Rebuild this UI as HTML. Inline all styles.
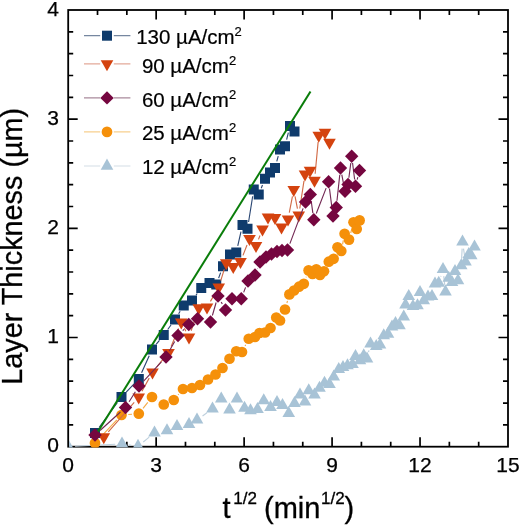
<!DOCTYPE html>
<html lang="en"><head><meta charset="utf-8"><title>Layer Thickness vs t^1/2</title>
<style>html,body{margin:0;padding:0;background:#fff}body{width:520px;height:526px;overflow:hidden}</style></head>
<body>
<svg width="520" height="526" viewBox="0 0 520 526" style="display:block">
<rect width="520" height="526" fill="#fff"/>
<defs><clipPath id="pa"><rect x="69.1" y="9.1" width="439.8" height="438.5"/></clipPath></defs>
<rect x="68.2" y="10" width="439.8" height="436.7" fill="none" stroke="#000" stroke-width="1.8"/>
<path d="M97.52 446.7v-5M97.52 10v5M126.84 446.7v-5M126.84 10v5M156.16 446.7v-9.5M156.16 10v9.5M185.48 446.7v-5M185.48 10v5M214.8 446.7v-5M214.8 10v5M244.12 446.7v-9.5M244.12 10v9.5M273.44 446.7v-5M273.44 10v5M302.76 446.7v-5M302.76 10v5M332.08 446.7v-9.5M332.08 10v9.5M361.4 446.7v-5M361.4 10v5M390.72 446.7v-5M390.72 10v5M420.04 446.7v-9.5M420.04 10v9.5M449.36 446.7v-5M449.36 10v5M478.68 446.7v-5M478.68 10v5M68.2 424.87h5M508 424.87h-5M68.2 403.03h5M508 403.03h-5M68.2 381.19h5M508 381.19h-5M68.2 359.36h5M508 359.36h-5M68.2 337.52h9.5M508 337.52h-9.5M68.2 315.69h5M508 315.69h-5M68.2 293.86h5M508 293.86h-5M68.2 272.02h5M508 272.02h-5M68.2 250.19h5M508 250.19h-5M68.2 228.35h9.5M508 228.35h-9.5M68.2 206.51h5M508 206.51h-5M68.2 184.68h5M508 184.68h-5M68.2 162.85h5M508 162.85h-5M68.2 141.01h5M508 141.01h-5M68.2 119.18h9.5M508 119.18h-9.5M68.2 97.34h5M508 97.34h-5M68.2 75.5h5M508 75.5h-5M68.2 53.67h5M508 53.67h-5M68.2 31.84h5M508 31.84h-5" stroke="#000" stroke-width="1.7" fill="none"/>
<g clip-path="url(#pa)">
<g>
<path fill="none" stroke="#bfd1de" stroke-width="1.15" d="M75.09 446.3L115.21 444.2M128.72 444.86L131.28 445.24M143.28 441.96L149.22 437.14M202.55 415.91L206.95 412.79M368.55 352.23L368.95 350.47M440.76 276.6L440.99 275.85M443.75 276.11L444.75 285.09M447.06 285.23L447.19 284.72M459.44 273.95L459.81 272.25M461.61 258.81L462.14 248.64M463.51 248.57L464.49 255.13"/>
<path d="M62 450.35h12.6l-6.3 -11.1z" fill="#a8c3d6"/>
<path d="M115.7 447.55h12.6l-6.3 -11.1z" fill="#a8c3d6"/>
<path d="M131.7 449.95h12.6l-6.3 -11.1z" fill="#a8c3d6"/>
<path d="M148.2 436.55h12.6l-6.3 -11.1z" fill="#a8c3d6"/>
<path d="M160.7 434.3h12.6l-6.3 -11.1z" fill="#a8c3d6"/>
<path d="M170.7 430.05h12.6l-6.3 -11.1z" fill="#a8c3d6"/>
<path d="M182.7 428.05h12.6l-6.3 -11.1z" fill="#a8c3d6"/>
<path d="M190.7 423.55h12.6l-6.3 -11.1z" fill="#a8c3d6"/>
<path d="M206.2 412.55h12.6l-6.3 -11.1z" fill="#a8c3d6"/>
<path d="M214.95 402.55h12.6l-6.3 -11.1z" fill="#a8c3d6"/>
<path d="M223.2 413.55h12.6l-6.3 -11.1z" fill="#a8c3d6"/>
<path d="M230.7 402.55h12.6l-6.3 -11.1z" fill="#a8c3d6"/>
<path d="M238.2 411.8h12.6l-6.3 -11.1z" fill="#a8c3d6"/>
<path d="M244.2 414.3h12.6l-6.3 -11.1z" fill="#a8c3d6"/>
<path d="M251.2 413.05h12.6l-6.3 -11.1z" fill="#a8c3d6"/>
<path d="M257.45 404.3h12.6l-6.3 -11.1z" fill="#a8c3d6"/>
<path d="M264.2 411.05h12.6l-6.3 -11.1z" fill="#a8c3d6"/>
<path d="M270.7 406.05h12.6l-6.3 -11.1z" fill="#a8c3d6"/>
<path d="M276.2 409.05h12.6l-6.3 -11.1z" fill="#a8c3d6"/>
<path d="M282.45 417.05h12.6l-6.3 -11.1z" fill="#a8c3d6"/>
<path d="M288.2 407.05h12.6l-6.3 -11.1z" fill="#a8c3d6"/>
<path d="M293.7 398.55h12.6l-6.3 -11.1z" fill="#a8c3d6"/>
<path d="M298.7 405.55h12.6l-6.3 -11.1z" fill="#a8c3d6"/>
<path d="M302.45 394.3h12.6l-6.3 -11.1z" fill="#a8c3d6"/>
<path d="M308.2 398.55h12.6l-6.3 -11.1z" fill="#a8c3d6"/>
<path d="M313.2 391.8h12.6l-6.3 -11.1z" fill="#a8c3d6"/>
<path d="M318.2 386.8h12.6l-6.3 -11.1z" fill="#a8c3d6"/>
<path d="M323.2 388.05h12.6l-6.3 -11.1z" fill="#a8c3d6"/>
<path d="M327.45 380.55h12.6l-6.3 -11.1z" fill="#a8c3d6"/>
<path d="M332.45 373.05h12.6l-6.3 -11.1z" fill="#a8c3d6"/>
<path d="M336.7 371.05h12.6l-6.3 -11.1z" fill="#a8c3d6"/>
<path d="M341.2 369.3h12.6l-6.3 -11.1z" fill="#a8c3d6"/>
<path d="M346.2 368.05h12.6l-6.3 -11.1z" fill="#a8c3d6"/>
<path d="M349.2 360.05h12.6l-6.3 -11.1z" fill="#a8c3d6"/>
<path d="M353.7 364.3h12.6l-6.3 -11.1z" fill="#a8c3d6"/>
<path d="M357.45 359.3h12.6l-6.3 -11.1z" fill="#a8c3d6"/>
<path d="M360.7 362.55h12.6l-6.3 -11.1z" fill="#a8c3d6"/>
<path d="M364.2 347.55h12.6l-6.3 -11.1z" fill="#a8c3d6"/>
<path d="M369.95 350.05h12.6l-6.3 -11.1z" fill="#a8c3d6"/>
<path d="M373.7 348.55h12.6l-6.3 -11.1z" fill="#a8c3d6"/>
<path d="M377.45 339.3h12.6l-6.3 -11.1z" fill="#a8c3d6"/>
<path d="M381.7 337.75h12.6l-6.3 -11.1z" fill="#a8c3d6"/>
<path d="M385.7 330.55h12.6l-6.3 -11.1z" fill="#a8c3d6"/>
<path d="M389.2 327.05h12.6l-6.3 -11.1z" fill="#a8c3d6"/>
<path d="M393.2 329.3h12.6l-6.3 -11.1z" fill="#a8c3d6"/>
<path d="M397.45 320.55h12.6l-6.3 -11.1z" fill="#a8c3d6"/>
<path d="M399.2 308.55h12.6l-6.3 -11.1z" fill="#a8c3d6"/>
<path d="M402.45 300.05h12.6l-6.3 -11.1z" fill="#a8c3d6"/>
<path d="M406.7 310.05h12.6l-6.3 -11.1z" fill="#a8c3d6"/>
<path d="M411.2 309.3h12.6l-6.3 -11.1z" fill="#a8c3d6"/>
<path d="M413.7 296.05h12.6l-6.3 -11.1z" fill="#a8c3d6"/>
<path d="M417.45 304.3h12.6l-6.3 -11.1z" fill="#a8c3d6"/>
<path d="M421.7 300.55h12.6l-6.3 -11.1z" fill="#a8c3d6"/>
<path d="M425.7 300.05h12.6l-6.3 -11.1z" fill="#a8c3d6"/>
<path d="M428.7 287.55h12.6l-6.3 -11.1z" fill="#a8c3d6"/>
<path d="M432.45 286.8h12.6l-6.3 -11.1z" fill="#a8c3d6"/>
<path d="M436.7 273.05h12.6l-6.3 -11.1z" fill="#a8c3d6"/>
<path d="M439.2 295.55h12.6l-6.3 -11.1z" fill="#a8c3d6"/>
<path d="M442.45 281.8h12.6l-6.3 -11.1z" fill="#a8c3d6"/>
<path d="M445.7 286.05h12.6l-6.3 -11.1z" fill="#a8c3d6"/>
<path d="M448.7 275.05h12.6l-6.3 -11.1z" fill="#a8c3d6"/>
<path d="M451.7 284.3h12.6l-6.3 -11.1z" fill="#a8c3d6"/>
<path d="M454.95 269.3h12.6l-6.3 -11.1z" fill="#a8c3d6"/>
<path d="M456.2 245.55h12.6l-6.3 -11.1z" fill="#a8c3d6"/>
<path d="M459.2 265.55h12.6l-6.3 -11.1z" fill="#a8c3d6"/>
<path d="M462.45 258.05h12.6l-6.3 -11.1z" fill="#a8c3d6"/>
<path d="M464.95 259.3h12.6l-6.3 -11.1z" fill="#a8c3d6"/>
<path d="M468.2 250.55h12.6l-6.3 -11.1z" fill="#a8c3d6"/>
</g>
<g>
<path fill="none" stroke="#f6ac48" stroke-width="1.15" d="M99.67 438.06L116.83 419.94M128.28 414.49L132.02 414.21M143.02 408.37L147.78 402.33M157.73 400.66L158.02 400.84M178.13 394.8L178.62 394.2M245.09 345.94L245.66 344.81M286.9 302.97L287.5 300.93M306.09 277.4L306.31 276.8M342.58 244.32L343.32 240.48M350.71 233.02L351.79 228.88"/>
<circle cx="95" cy="443" r="5.35" fill="#f5900a"/>
<circle cx="121.5" cy="415" r="5.35" fill="#f5900a"/>
<circle cx="138.8" cy="413.7" r="5.35" fill="#f5900a"/>
<circle cx="152" cy="397" r="5.35" fill="#f5900a"/>
<circle cx="163.75" cy="404.5" r="5.35" fill="#f5900a"/>
<circle cx="173.75" cy="400" r="5.35" fill="#f5900a"/>
<circle cx="183" cy="389" r="5.35" fill="#f5900a"/>
<circle cx="192" cy="388" r="5.35" fill="#f5900a"/>
<circle cx="200" cy="385" r="5.35" fill="#f5900a"/>
<circle cx="208" cy="379.5" r="5.35" fill="#f5900a"/>
<circle cx="215.5" cy="374.5" r="5.35" fill="#f5900a"/>
<circle cx="222.5" cy="368" r="5.35" fill="#f5900a"/>
<circle cx="229.5" cy="358.75" r="5.35" fill="#f5900a"/>
<circle cx="236.25" cy="351.25" r="5.35" fill="#f5900a"/>
<circle cx="242" cy="352" r="5.35" fill="#f5900a"/>
<circle cx="248.75" cy="338.75" r="5.35" fill="#f5900a"/>
<circle cx="255" cy="337" r="5.35" fill="#f5900a"/>
<circle cx="259.5" cy="333" r="5.35" fill="#f5900a"/>
<circle cx="265" cy="332.5" r="5.35" fill="#f5900a"/>
<circle cx="270.5" cy="328" r="5.35" fill="#f5900a"/>
<circle cx="276.25" cy="317.5" r="5.35" fill="#f5900a"/>
<circle cx="280" cy="320.5" r="5.35" fill="#f5900a"/>
<circle cx="285" cy="309.5" r="5.35" fill="#f5900a"/>
<circle cx="289.4" cy="294.4" r="5.35" fill="#f5900a"/>
<circle cx="294" cy="290.5" r="5.35" fill="#f5900a"/>
<circle cx="299" cy="286.7" r="5.35" fill="#f5900a"/>
<circle cx="303.8" cy="283.8" r="5.35" fill="#f5900a"/>
<circle cx="308.6" cy="270.4" r="5.35" fill="#f5900a"/>
<circle cx="312.5" cy="274" r="5.35" fill="#f5900a"/>
<circle cx="316.3" cy="269.4" r="5.35" fill="#f5900a"/>
<circle cx="320" cy="275" r="5.35" fill="#f5900a"/>
<circle cx="324" cy="271.3" r="5.35" fill="#f5900a"/>
<circle cx="328.8" cy="261.7" r="5.35" fill="#f5900a"/>
<circle cx="333.6" cy="258.8" r="5.35" fill="#f5900a"/>
<circle cx="337.5" cy="247.3" r="5.35" fill="#f5900a"/>
<circle cx="341.3" cy="251" r="5.35" fill="#f5900a"/>
<circle cx="344.6" cy="233.8" r="5.35" fill="#f5900a"/>
<circle cx="349" cy="239.6" r="5.35" fill="#f5900a"/>
<circle cx="353.5" cy="222.3" r="5.35" fill="#f5900a"/>
<circle cx="356.7" cy="229" r="5.35" fill="#f5900a"/>
<circle cx="359.6" cy="220.4" r="5.35" fill="#f5900a"/>
</g>
<g>
<path fill="none" stroke="#2c4874" stroke-width="1.15" d="M99.03 427.52L117.47 402.48M126.21 392.1L134.09 383.9M141.58 372.79L149.22 355.71M156.28 344.22L159.47 340.28M167.74 329.5L171.01 325M178.6 313.73L180.15 311.27M196.04 295.03L197.21 293.47M218.61 278.12L220.64 272.63M237.76 245.87L240.99 231.63M248.57 222.03L252.68 196.22M261.26 188.18L262.49 185.07M276.77 161.44L278.23 156.06M286.63 139.65L288.37 132.6"/>
<rect x="90" y="428" width="10" height="10" fill="#0f3b6c"/>
<rect x="116.5" y="392" width="10" height="10" fill="#0f3b6c"/>
<rect x="133.8" y="374" width="10" height="10" fill="#0f3b6c"/>
<rect x="147" y="344.5" width="10" height="10" fill="#0f3b6c"/>
<rect x="158.75" y="330" width="10" height="10" fill="#0f3b6c"/>
<rect x="170" y="314.5" width="10" height="10" fill="#0f3b6c"/>
<rect x="178.75" y="300.5" width="10" height="10" fill="#0f3b6c"/>
<rect x="187" y="295.5" width="10" height="10" fill="#0f3b6c"/>
<rect x="196.25" y="283" width="10" height="10" fill="#0f3b6c"/>
<rect x="204.5" y="278" width="10" height="10" fill="#0f3b6c"/>
<rect x="211.25" y="279.5" width="10" height="10" fill="#0f3b6c"/>
<rect x="218" y="261.25" width="10" height="10" fill="#0f3b6c"/>
<rect x="225" y="249.5" width="10" height="10" fill="#0f3b6c"/>
<rect x="231.25" y="247.5" width="10" height="10" fill="#0f3b6c"/>
<rect x="237.5" y="220" width="10" height="10" fill="#0f3b6c"/>
<rect x="242.5" y="223.75" width="10" height="10" fill="#0f3b6c"/>
<rect x="248.75" y="184.5" width="10" height="10" fill="#0f3b6c"/>
<rect x="253.75" y="189.5" width="10" height="10" fill="#0f3b6c"/>
<rect x="260" y="173.75" width="10" height="10" fill="#0f3b6c"/>
<rect x="265" y="167.5" width="10" height="10" fill="#0f3b6c"/>
<rect x="270" y="163" width="10" height="10" fill="#0f3b6c"/>
<rect x="275" y="144.5" width="10" height="10" fill="#0f3b6c"/>
<rect x="280" y="141.25" width="10" height="10" fill="#0f3b6c"/>
<rect x="285" y="121" width="10" height="10" fill="#0f3b6c"/>
<rect x="289.5" y="126.5" width="10" height="10" fill="#0f3b6c"/>
</g>
<g>
<path fill="none" stroke="#d26c48" stroke-width="1.15" d="M108.29 431.79L134.21 402.31M141.99 391.25L149.21 378.15M156.81 366.94L164.19 357.96M171.12 346.43L178.63 328.47M184.37 328.24L185.88 331.16M191.15 330.75L196.6 314.4M210.44 301.34L215.31 293.06M220.76 280.7L224.24 269.45M242.98 255.37L247.02 245.03M258.49 239.37L260.01 235.53M289.3 212.53L292.45 196.37M295.06 196.37L297.44 208.53M299.77 208.48L303.98 180.92M315.14 173.68L318.11 142.17"/>
<path d="M97.5 433.2h12.6l-6.3 11.1z" fill="#d4430f"/>
<path d="M132.4 393.5h12.6l-6.3 11.1z" fill="#d4430f"/>
<path d="M146.2 368.5h12.6l-6.3 11.1z" fill="#d4430f"/>
<path d="M162.2 349h12.6l-6.3 11.1z" fill="#d4430f"/>
<path d="M174.95 318.5h12.6l-6.3 11.1z" fill="#d4430f"/>
<path d="M182.7 333.5h12.6l-6.3 11.1z" fill="#d4430f"/>
<path d="M192.45 304.25h12.6l-6.3 11.1z" fill="#d4430f"/>
<path d="M200.7 303.5h12.6l-6.3 11.1z" fill="#d4430f"/>
<path d="M212.45 283.5h12.6l-6.3 11.1z" fill="#d4430f"/>
<path d="M219.95 259.25h12.6l-6.3 11.1z" fill="#d4430f"/>
<path d="M226.95 263h12.6l-6.3 11.1z" fill="#d4430f"/>
<path d="M234.2 258h12.6l-6.3 11.1z" fill="#d4430f"/>
<path d="M243.2 235h12.6l-6.3 11.1z" fill="#d4430f"/>
<path d="M249.7 242h12.6l-6.3 11.1z" fill="#d4430f"/>
<path d="M256.2 225.5h12.6l-6.3 11.1z" fill="#d4430f"/>
<path d="M261.7 213.5h12.6l-6.3 11.1z" fill="#d4430f"/>
<path d="M268.7 214h12.6l-6.3 11.1z" fill="#d4430f"/>
<path d="M275.2 223.5h12.6l-6.3 11.1z" fill="#d4430f"/>
<path d="M281.7 215.5h12.6l-6.3 11.1z" fill="#d4430f"/>
<path d="M287.45 186h12.6l-6.3 11.1z" fill="#d4430f"/>
<path d="M292.45 211.5h12.6l-6.3 11.1z" fill="#d4430f"/>
<path d="M298.7 170.5h12.6l-6.3 11.1z" fill="#d4430f"/>
<path d="M303.7 166.75h12.6l-6.3 11.1z" fill="#d4430f"/>
<path d="M308.2 176.75h12.6l-6.3 11.1z" fill="#d4430f"/>
<path d="M312.45 131.7h12.6l-6.3 11.1z" fill="#d4430f"/>
<path d="M318.7 128.7h12.6l-6.3 11.1z" fill="#d4430f"/>
<path d="M323.2 138.7h12.6l-6.3 11.1z" fill="#d4430f"/>
</g>
<g>
<path fill="none" stroke="#742a55" stroke-width="1.15" d="M100.05 430.45L120.45 412.05M129.12 401.74L135.38 391.76M143.63 381.02L161.37 361.98M169.31 351.06L174.69 341.44M182.75 330.64L184 329.36M212.38 315.47L216.12 302.53M221.21 301.99L222.29 304.01M243.67 292.39L245.58 287.36M257.44 268.65L257.56 268.35M289.89 243.63L303.11 208.37M311.23 201.24L312.87 213.06M316.27 213.46L326.13 188.14M329.47 188.54L332.13 209.26M336.98 200.74L339.77 174.76M341.79 174.68L343.71 184.57M348.88 177.76L350.82 163.04M352.56 163.05L354.64 179.5M357.17 179.66L357.83 177.09"/>
<path d="M95 428.3l6.7 6.7l-6.7 6.7l-6.7 -6.7z" fill="#75063f"/>
<path d="M125.5 400.8l6.7 6.7l-6.7 6.7l-6.7 -6.7z" fill="#75063f"/>
<path d="M139 379.3l6.7 6.7l-6.7 6.7l-6.7 -6.7z" fill="#75063f"/>
<path d="M166 350.3l6.7 6.7l-6.7 6.7l-6.7 -6.7z" fill="#75063f"/>
<path d="M178 328.8l6.7 6.7l-6.7 6.7l-6.7 -6.7z" fill="#75063f"/>
<path d="M188.75 317.8l6.7 6.7l-6.7 6.7l-6.7 -6.7z" fill="#75063f"/>
<path d="M197.5 312.05l6.7 6.7l-6.7 6.7l-6.7 -6.7z" fill="#75063f"/>
<path d="M210.5 315.3l6.7 6.7l-6.7 6.7l-6.7 -6.7z" fill="#75063f"/>
<path d="M218 289.3l6.7 6.7l-6.7 6.7l-6.7 -6.7z" fill="#75063f"/>
<path d="M225.5 303.3l6.7 6.7l-6.7 6.7l-6.7 -6.7z" fill="#75063f"/>
<path d="M232 292.05l6.7 6.7l-6.7 6.7l-6.7 -6.7z" fill="#75063f"/>
<path d="M241.25 292.05l6.7 6.7l-6.7 6.7l-6.7 -6.7z" fill="#75063f"/>
<path d="M248 274.3l6.7 6.7l-6.7 6.7l-6.7 -6.7z" fill="#75063f"/>
<path d="M255 268.3l6.7 6.7l-6.7 6.7l-6.7 -6.7z" fill="#75063f"/>
<path d="M260 255.3l6.7 6.7l-6.7 6.7l-6.7 -6.7z" fill="#75063f"/>
<path d="M266 250.3l6.7 6.7l-6.7 6.7l-6.7 -6.7z" fill="#75063f"/>
<path d="M271.5 247.3l6.7 6.7l-6.7 6.7l-6.7 -6.7z" fill="#75063f"/>
<path d="M277 244.8l6.7 6.7l-6.7 6.7l-6.7 -6.7z" fill="#75063f"/>
<path d="M282 243.8l6.7 6.7l-6.7 6.7l-6.7 -6.7z" fill="#75063f"/>
<path d="M287.5 243.3l6.7 6.7l-6.7 6.7l-6.7 -6.7z" fill="#75063f"/>
<path d="M305.5 195.3l6.7 6.7l-6.7 6.7l-6.7 -6.7z" fill="#75063f"/>
<path d="M310.3 187.8l6.7 6.7l-6.7 6.7l-6.7 -6.7z" fill="#75063f"/>
<path d="M313.8 213.1l6.7 6.7l-6.7 6.7l-6.7 -6.7z" fill="#75063f"/>
<path d="M328.6 175.1l6.7 6.7l-6.7 6.7l-6.7 -6.7z" fill="#75063f"/>
<path d="M333 209.3l6.7 6.7l-6.7 6.7l-6.7 -6.7z" fill="#75063f"/>
<path d="M336.25 200.8l6.7 6.7l-6.7 6.7l-6.7 -6.7z" fill="#75063f"/>
<path d="M340.5 161.3l6.7 6.7l-6.7 6.7l-6.7 -6.7z" fill="#75063f"/>
<path d="M345 184.55l6.7 6.7l-6.7 6.7l-6.7 -6.7z" fill="#75063f"/>
<path d="M348 177.8l6.7 6.7l-6.7 6.7l-6.7 -6.7z" fill="#75063f"/>
<path d="M351.7 149.6l6.7 6.7l-6.7 6.7l-6.7 -6.7z" fill="#75063f"/>
<path d="M355.5 179.55l6.7 6.7l-6.7 6.7l-6.7 -6.7z" fill="#75063f"/>
<path d="M359.5 163.8l6.7 6.7l-6.7 6.7l-6.7 -6.7z" fill="#75063f"/>
</g>
<line x1="98" y1="431.5" x2="310.5" y2="91.5" stroke="#0a7d0a" stroke-width="2"/>
</g>
<g font-family="'Liberation Sans', sans-serif" font-size="21" fill="#000" stroke="#000" stroke-width="0.25">
<text x="68.2" y="472.3" text-anchor="middle">0</text>
<text x="156.16" y="472.3" text-anchor="middle">3</text>
<text x="244.12" y="472.3" text-anchor="middle">6</text>
<text x="332.08" y="472.3" text-anchor="middle">9</text>
<text x="420.04" y="472.3" text-anchor="middle">12</text>
<text x="508" y="472.3" text-anchor="middle">15</text>
<text x="59" y="452.4" text-anchor="end">0</text>
<text x="59" y="343.22" text-anchor="end">1</text>
<text x="59" y="234.05" text-anchor="end">2</text>
<text x="59" y="124.88" text-anchor="end">3</text>
<text x="59" y="15.7" text-anchor="end">4</text>
</g>
<g font-family="'Liberation Sans', sans-serif" font-size="29" fill="#000" stroke="#000" stroke-width="0.3">
<text y="518"><tspan x="222.5">t</tspan><tspan x="233.3" font-size="17" dy="-14">1/2</tspan><tspan x="264" dy="14">(min</tspan><tspan x="321" font-size="17" dy="-14">1/2</tspan><tspan x="344.5" dy="14">)</tspan></text>
<text transform="translate(22.1,246.3) rotate(-90)" text-anchor="middle" font-size="28.8">Layer Thickness (µm)</text>
</g>
<g font-family="'Liberation Sans', sans-serif" font-size="20.5" fill="#000">
<path d="M84 35.7H100.2M113.8 35.7H130.4" stroke="#7687a0" stroke-width="1.2" fill="none"/>
<rect x="102" y="30.7" width="10" height="10" fill="#0f3b6c"/>
<text x="189" y="44" text-anchor="middle" stroke="#000" stroke-width="0.2">130 µA/cm<tspan font-size="13" dy="-8">2</tspan></text>
<path d="M84 63.9H100.2M113.8 63.9H130.4" stroke="#e3a999" stroke-width="1.2" fill="none"/>
<path d="M100.7 60.2h12.6l-6.3 11.1z" fill="#d4430f"/>
<text x="189" y="73" text-anchor="middle" stroke="#000" stroke-width="0.2">90 µA/cm<tspan font-size="13" dy="-8">2</tspan></text>
<path d="M84 97.9H100.2M113.8 97.9H130.4" stroke="#a98a9c" stroke-width="1.2" fill="none"/>
<path d="M107 91.2l6.7 6.7l-6.7 6.7l-6.7 -6.7z" fill="#75063f"/>
<text x="189" y="106.5" text-anchor="middle" stroke="#000" stroke-width="0.2">60 µA/cm<tspan font-size="13" dy="-8">2</tspan></text>
<path d="M84 131.9H100.2M113.8 131.9H130.4" stroke="#f8cf8e" stroke-width="1.2" fill="none"/>
<circle cx="107" cy="131.9" r="5.35" fill="#f5900a"/>
<text x="189" y="140" text-anchor="middle" stroke="#000" stroke-width="0.2">25 µA/cm<tspan font-size="13" dy="-8">2</tspan></text>
<path d="M84 166H100.2M113.8 166H130.4" stroke="#d3dde6" stroke-width="1.2" fill="none"/>
<path d="M100.7 169.7h12.6l-6.3 -11.1z" fill="#a8c3d6"/>
<text x="189" y="173.5" text-anchor="middle" stroke="#000" stroke-width="0.2">12 µA/cm<tspan font-size="13" dy="-8">2</tspan></text>
</g>
</svg>
</body></html>
